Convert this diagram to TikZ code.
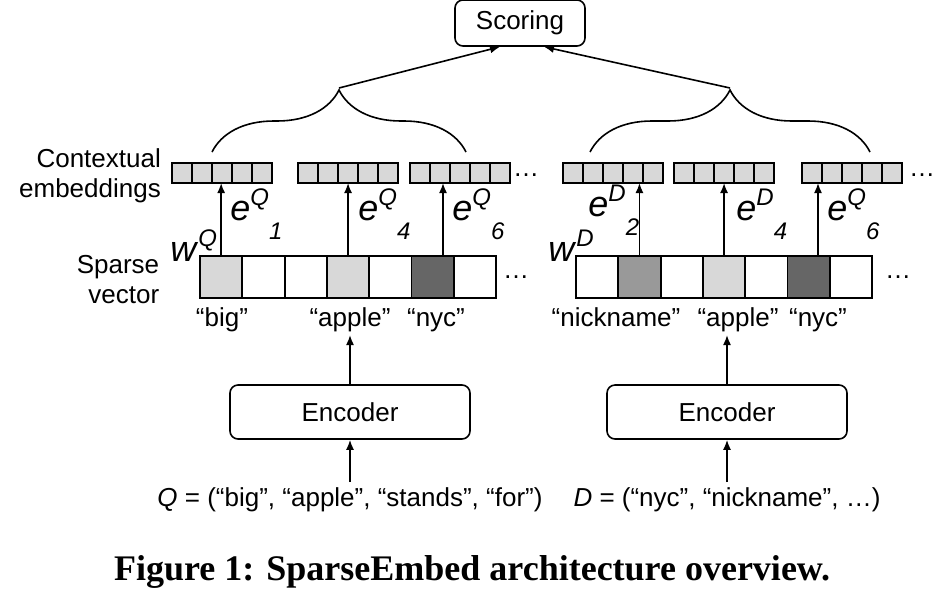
\documentclass[tikz,border=0pt]{standalone}
\usepackage{fontspec}
\setmainfont{Liberation Sans}
\newfontfamily\capfont{Liberation Serif}
\usetikzlibrary{arrows.meta,decorations.pathreplacing}
\definecolor{LightCell}{RGB}{216,216,216}
\definecolor{MidCell}{RGB}{153,153,153}
\definecolor{DarkCell}{RGB}{102,102,102}
\newcommand{\embl}[3]{\textit{#1}\raisebox{0.8ex}{\fontsize{12}{13}\selectfont\textit{#2}}\raisebox{-1.0ex}{\fontsize{12}{13}\selectfont\textit{#3}}}

\begin{document}
\begin{tikzpicture}[x=0.5pt,y=-0.5pt,
    cell/.style={draw, line width=0.9pt, minimum width=21.15pt, minimum height=21pt, inner sep=0pt, outer sep=0pt},
    ecell/.style={cell, minimum width=10pt, minimum height=10pt, fill=LightCell},
    box/.style={draw, rounded corners=4pt, line width=0.8pt, minimum width=120pt, minimum height=27pt, font=\fontsize{13}{15}\selectfont},
    arr/.style={-{Latex[length=5pt,width=4pt]}, line width=0.8pt},
    lbl/.style={font=\fontsize{13}{15}\selectfont, inner sep=1pt},
    wlbl/.style={lbl, anchor=base},
    elbl/.style={font=\fontsize{18}{20}\selectfont, inner sep=0pt, anchor=west},
    brc/.style={decorate, decoration={brace, amplitude=31pt}, line width=0.8pt}]
    \useasboundingbox (0,0) rectangle (945,600);

    % scoring
    \node[box, minimum width=65pt, minimum height=23pt] (score) at (520,23) {Scoring};

    % sparse vectors
    \foreach \i/\c in {1/LightCell,2/white,3/white,4/LightCell,5/white,6/DarkCell,7/white}
        \node[cell, fill=\c] (qs\i) at ({200+42.3*(\i-0.5)},277) {};
    \foreach \i/\c in {1/white,2/MidCell,3/white,4/LightCell,5/white,6/DarkCell,7/white}
        \node[cell, fill=\c] (ds\i) at ({576+42.3*(\i-0.5)},277) {};
    \node[lbl] (qdots) at (516,277) {\dots};
    \node[lbl] (ddots) at (898,277) {\dots};

    % contextual embeddings
    \foreach \b/\x in {1/172,2/298,3/410}
        \foreach \j in {1,...,5}
            \node[ecell] (qe\b\j) at ({\x+20*(\j-0.5)},173) {};
    \foreach \b/\x in {1/563,2/674,3/802}
        \foreach \j in {1,...,5}
            \node[ecell] (de\b\j) at ({\x+20*(\j-0.5)},173) {};
    \node[lbl] (qedots) at (526,175) {\dots};
    \node[lbl] (dedots) at (922,175) {\dots};

    % side labels
    \node[lbl, align=right] (ctxlbl) at (90,176) {Contextual\\embeddings};
    \node[lbl, align=right] (splbl) at (118,280) {Sparse\\vector};

    % sparse -> embedding
    \coordinate (q6) at (443,256);
    \coordinate (d6) at (818,256);
    \draw[arr] (qs1.north) -- (qs1.north |- qe13.south);
    \draw[arr] (qs4.north) -- (qs4.north |- qe23.south);
    \draw[arr] (q6) -- (q6 |- qe32.south);
    \draw[arr] (ds2.north) -- (ds2.north |- de14.south);
    \draw[arr] (ds4.north) -- (ds4.north |- de23.south);
    \draw[arr] (d6) -- (d6 |- de31.south);

    \node[elbl] (eq1) at (230,214) {\embl{e}{Q}{1}};
    \node[elbl] (eq4) at (358,214) {\embl{e}{Q}{4}};
    \node[elbl] (eq6) at (452,214) {\embl{e}{Q}{6}};
    \node[elbl] (ed2) at (588,210) {\embl{e}{D}{2}};
    \node[elbl] (ed4) at (736,214) {\embl{e}{D}{4}};
    \node[elbl] (ed6) at (827,214) {\embl{e}{Q}{6}};
    \node[elbl] (wq) at (170,246) {\textit{w}\raisebox{0.8ex}{\fontsize{12}{13}\selectfont\textit{Q}}};
    \node[elbl] (wd) at (548,246) {\textit{w}\raisebox{0.8ex}{\fontsize{12}{13}\selectfont\textit{D}}};

    % words
    \node[wlbl] (wbig) at (222,326) {``big''};
    \node[wlbl] (wapq) at (350,326) {``apple''};
    \node[wlbl] (wnyq) at (436,326) {``nyc''};
    \node[wlbl] (wnick) at (616,326) {``nickname''};
    \node[wlbl] (wapd) at (738,326) {``apple''};
    \node[wlbl] (wnyd) at (818,326) {``nyc''};

    % braces and scoring
    \draw[brc] (212,152) -- (466,152);
    \draw[brc] (590,152) -- (870,152);
    \coordinate (qpeak) at (339,88);
    \coordinate (dpeak) at (730,88);
    \draw[arr] (qpeak) -- ([xshift=-10pt]score.south);
    \draw[arr] (dpeak) -- ([xshift=12pt]score.south);

    % encoders
    \node[box] (qenc) at (350,412) {Encoder};
    \node[box] (denc) at (727,412) {Encoder};
    \draw[arr] (qenc.north) -- (qenc.north |- 0,335);
    \draw[arr] (denc.north) -- (denc.north |- 0,335);

    % inputs
    \node[lbl] (qin) at (350,500) {\textit{Q} = (``big'', ``apple'', ``stands'', ``for'')};
    \node[lbl] (din) at (727,500) {\textit{D} = (``nyc'', ``nickname'', \dots)};
    \draw[arr] (qin.north |- 0,482) -- (qenc.south);
    \draw[arr] (din.north |- 0,482) -- (denc.south);

    % caption
    \node[font=\capfont\bfseries\fontsize{18}{20}\selectfont] (cap) at (472,572) {Figure 1: SparseEmbed architecture overview.};
\end{tikzpicture}
\end{document}
